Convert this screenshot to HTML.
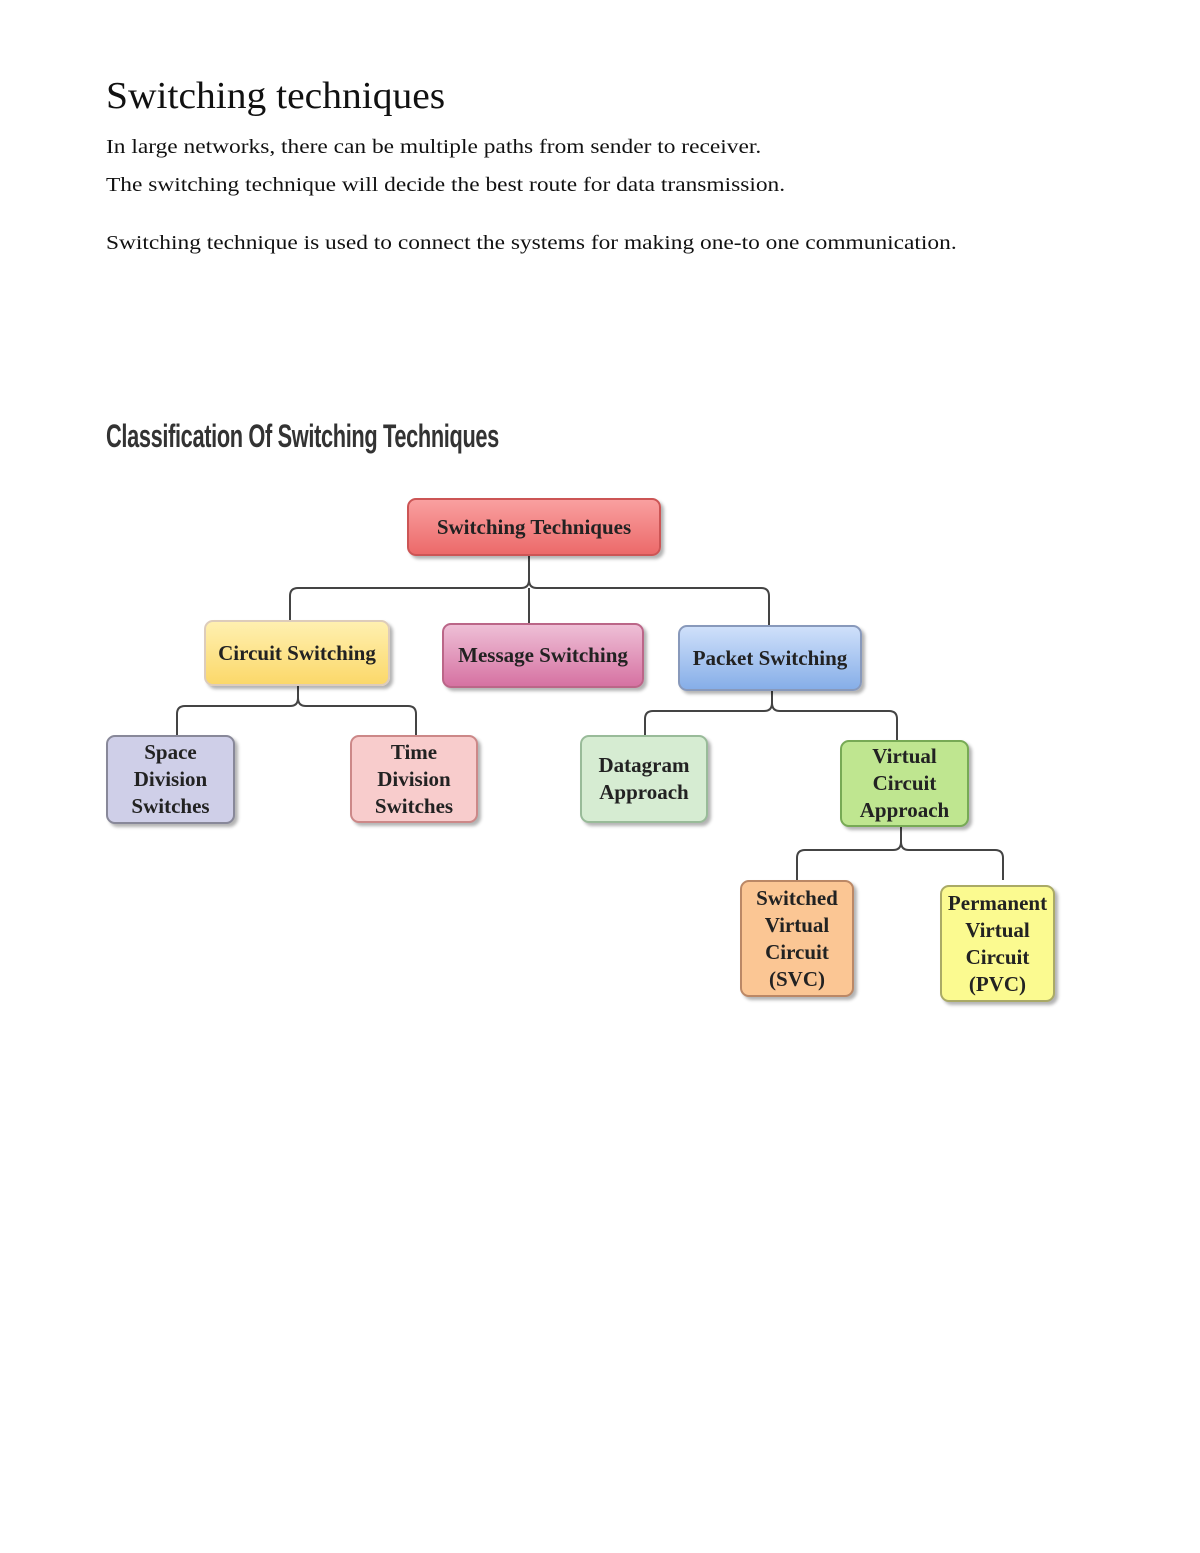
<!DOCTYPE html>
<html><head><meta charset="utf-8"><style>
body{margin:0;width:1200px;height:1553px;background:#fff;position:relative;overflow:hidden;font-family:"Liberation Serif",serif;color:#111}
.t{position:absolute;left:106px;white-space:nowrap;transform-origin:left top}
.b{position:absolute;box-sizing:border-box;border-radius:9px;border:2px solid #888;display:flex;align-items:center;justify-content:center;text-align:center;font-weight:bold;font-size:21px;line-height:27px;color:#222;box-shadow:3px 3px 3px rgba(0,0,0,.3)}
</style></head><body>
<div class="t" style="top:74px;font-size:38px;transform:scaleX(1.04)">Switching techniques</div>
<div class="t" style="top:136px;font-size:20px;transform:scaleX(1.17)">In large networks, there can be multiple paths from sender to receiver.</div>
<div class="t" style="top:174px;font-size:20px;transform:scaleX(1.17)">The switching technique will decide the best route for data transmission.</div>
<div class="t" style="top:232px;font-size:20px;transform:scaleX(1.17)">Switching technique is used to connect the systems for making one-to one communication.</div>
<div class="t" style="top:418px;font-family:'Liberation Sans',sans-serif;font-weight:bold;font-size:32px;color:#333;transform:scaleX(0.68);letter-spacing:-0.5px">Classification Of Switching Techniques</div>
<svg style="position:absolute;left:0;top:0" width="1200" height="1100">
<g fill="none" stroke="#444" stroke-width="2">
<path d="M529 556V580q0 8 -8 8H298q-8 0-8 8V620M529 580q0 8 8 8H761q8 0 8 8V625M529 588V623"/>
<path d="M298 686V698q0 8-8 8H185q-8 0-8 8V735M298 698q0 8 8 8H408q8 0 8 8V735"/>
<path d="M772 691V703q0 8-8 8H653q-8 0-8 8V735M772 703q0 8 8 8H889q8 0 8 8V740"/>
<path d="M901 827V842q0 8-8 8H805q-8 0-8 8V880M901 842q0 8 8 8H995q8 0 8 8V880"/>
</g></svg>
<div class="b" style="left:407px;top:498px;width:254px;height:58px;background:linear-gradient(#f9a0a0,#ec6a6a);border-color:#c55">Switching Techniques</div>
<div class="b" style="left:204px;top:620px;width:186px;height:66px;background:linear-gradient(#fff0b0,#fbd86a);border-color:#dcb">Circuit Switching</div>
<div class="b" style="left:442px;top:623px;width:202px;height:65px;background:linear-gradient(#eebfd6,#d672a2);border-color:#b68">Message Switching</div>
<div class="b" style="left:678px;top:625px;width:184px;height:66px;background:linear-gradient(#cfe0fa,#86aee8);border-color:#89b">Packet Switching</div>
<div class="b" style="left:106px;top:735px;width:129px;height:89px;background:#cfcfe8;border-color:#889">Space<br>Division<br>Switches</div>
<div class="b" style="left:350px;top:735px;width:128px;height:88px;background:#f8cccc;border-color:#c88">Time<br>Division<br>Switches</div>
<div class="b" style="left:580px;top:735px;width:128px;height:88px;background:#d6ecd2;border-color:#9b9">Datagram<br>Approach</div>
<div class="b" style="left:840px;top:740px;width:129px;height:87px;background:#bfe690;border-color:#7a5">Virtual<br>Circuit<br>Approach</div>
<div class="b" style="left:740px;top:880px;width:114px;height:117px;background:#fbc694;border-color:#b86">Switched<br>Virtual<br>Circuit<br>(SVC)</div>
<div class="b" style="left:940px;top:885px;width:115px;height:117px;background:#fbfa90;border-color:#aa6">Permanent<br>Virtual<br>Circuit<br>(PVC)</div>
</body></html>
